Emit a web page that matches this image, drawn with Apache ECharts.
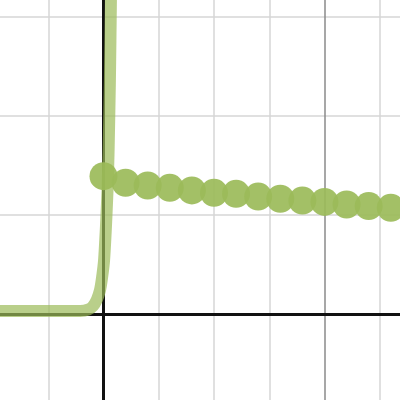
<!DOCTYPE html>
<html>
<head>
<meta charset="utf-8">
<script src="https://cdn.jsdelivr.net/npm/echarts@6/dist/echarts.min.js"></script>
<style>
html, body { margin: 0; padding: 0; background: #fff; overflow: hidden; width: 400px; height: 400px; }
/* the plot runs past the window on every side, as in the original */
#container { position: absolute; left: -7.1px; top: -82.5px; width: 442.4px; height: 495px; }
</style>
</head>
<body>
<div id="container"></div>
<script>
// curve (x, y)
var curveX = [-1, -0.21, -0.14, -0.095, -0.06, -0.032, -0.014, 0.005, 0.022, 0.036, 0.046, 0.058, 0.067, 0.074];
var curveY = [0.015, 0.015, 0.022, 0.04, 0.073, 0.12, 0.18, 0.27, 0.44, 0.62, 0.82, 1.18, 1.58, 2.0];

// the dots
var dotX = [0, 0.2, 0.4, 0.6, 0.8, 1.0, 1.2, 1.4, 1.6, 1.8, 2.0, 2.2, 2.4, 2.6];
var dotY = [0.696, 0.663, 0.649, 0.637, 0.624, 0.612, 0.607, 0.593, 0.582, 0.573, 0.566, 0.553, 0.545, 0.536];

var light = '#d6d6d6', dark = '#8a8a8a', none = 'rgba(0,0,0,0)';

var dom = document.getElementById('container');
var myChart = echarts.init(dom, null, { renderer: 'canvas' });

var curveData = [], dotData = [];
for (var i = 0; i < curveX.length; i++) {
    curveData.push([curveX[i], curveY[i]]);
}
for (var j = 0; j < dotX.length; j++) {
    dotData.push([dotX[j], dotY[j]]);
}

var option = {
    backgroundColor: '#fff',
    animation: false,
    grid: { left: 0, right: 0, top: 0, bottom: 0 },
    xAxis: {
        type: 'value',
        min: -1,
        max: 3,
        interval: 0.5,
        axisLine: { onZero: true, lineStyle: { color: '#111', width: 3 } },
        axisTick: { show: false },
        axisLabel: { show: false },
        splitLine: {
            show: true,
            lineStyle: {
                width: 1.5,
                color: [light, light, none, light, light, light, dark, light, light]
            }
        }
    },
    yAxis: {
        type: 'value',
        min: -0.5,
        max: 2,
        interval: 0.5,
        axisLine: { onZero: true, lineStyle: { color: '#111', width: 3 } },
        axisTick: { show: false },
        axisLabel: { show: false },
        splitLine: {
            show: true,
            lineStyle: {
                width: 1.5,
                color: [light, none, light, light, light, light]
            }
        }
    },
    series: [
        {
            type: 'line',
            data: curveData,
            showSymbol: false,
            smooth: 0.2,
            clip: false,
            lineStyle: { color: '#9bbb59', width: 12, opacity: 0.7, cap: 'round', join: 'round' }
        },
        {
            type: 'scatter',
            data: dotData,
            symbolSize: 28,
            itemStyle: { color: '#9bbb59', opacity: 0.92 }
        }
    ]
};
myChart.setOption(option, true);
</script>
</body>
</html>
